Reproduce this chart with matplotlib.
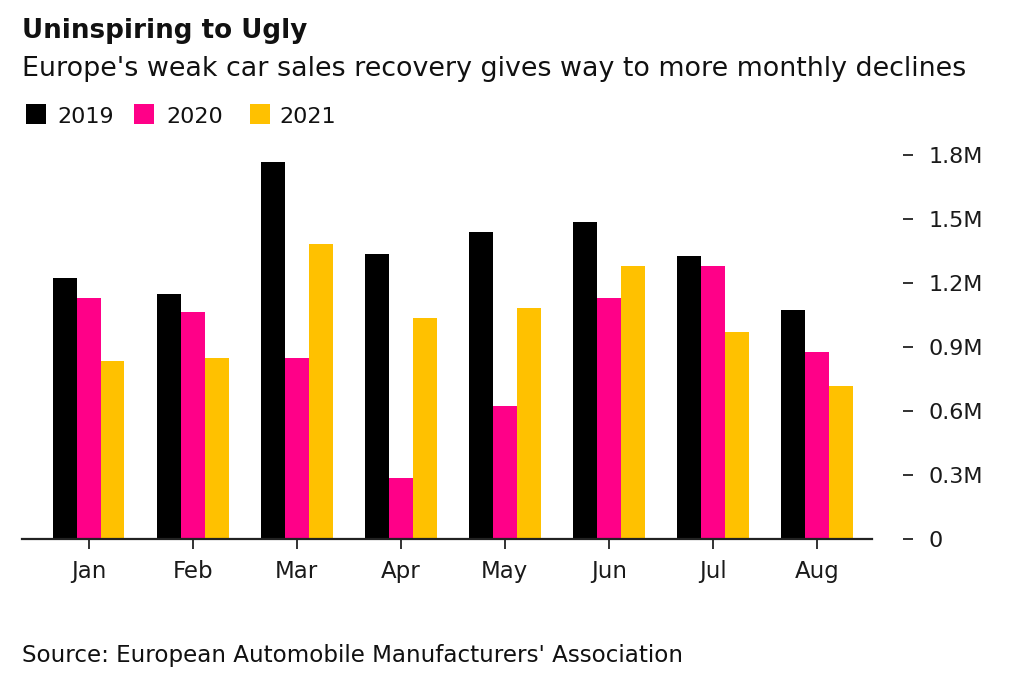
import matplotlib
matplotlib.use("Agg")
import matplotlib.pyplot as plt
import matplotlib.transforms as mtransforms
from matplotlib.patches import Rectangle
import numpy as np

plt.rcParams['font.family'] = ['DejaVu Sans']

months = ["Jan", "Feb", "Mar", "Apr", "May", "Jun", "Jul", "Aug"]
years = ["2019", "2020", "2021"]
sales_2019 = [1.224, 1.149, 1.767, 1.336, 1.439, 1.486, 1.327, 1.074]
sales_2020 = [1.130, 1.063, 0.847, 0.286, 0.624, 1.130, 1.279, 0.875]
sales_2021 = [0.836, 0.847, 1.382, 1.035, 1.082, 1.279, 0.969, 0.716]
yticks = [0, 0.3, 0.6, 0.9, 1.2, 1.5, 1.8]
ytick_labels = ["0", "0.3M", "0.6M", "0.9M", "1.2M", "1.5M", "1.8M"]

colors = ["#000000", "#ff0088", "#ffc100"]
series = [sales_2019, sales_2020, sales_2021]

W, H = 1012, 678
fig = plt.figure(figsize=(W / 100, H / 100), dpi=100)
fig.patch.set_facecolor("white")

def fx(px):
    return px / W

def fy(py):
    return 1 - py / H

ax = fig.add_axes([fx(22), fy(539), fx(872) - fx(22), fy(155) - fy(539)])
x = np.arange(len(months))
bw = 0.23
for i, (vals, c) in enumerate(zip(series, colors)):
    ax.bar(x + (i - 1) * bw, vals, width=bw, color=c, linewidth=0, zorder=2)

ax.set_xlim(-0.64, 7.53)
ax.set_ylim(0, 1.8)
for s in ["top", "right", "left"]:
    ax.spines[s].set_visible(False)
ax.spines["bottom"].set_color("#222222")
ax.spines["bottom"].set_linewidth(1.6)
ax.spines["bottom"].set_zorder(3)

ax.set_xticks(x)
ax.set_xticklabels(months, fontsize=16.5, color="#1a1a1a")
ax.tick_params(axis="x", length=7, width=1.3, color="#222222", pad=8)

ax.yaxis.tick_right()
ax.set_yticks(yticks)
ax.set_yticklabels(ytick_labels, fontsize=16, color="#1a1a1a")
ax.tick_params(axis="y", length=0, pad=41)
trans = mtransforms.blended_transform_factory(ax.transAxes, ax.transData)
for v in yticks:
    ax.plot([1.036, 1.048], [v, v], transform=trans, color="#222222",
            linewidth=1.3, clip_on=False, solid_capstyle="butt")

fig.text(fx(22), fy(38), "Uninspiring to Ugly", fontsize=18.8, fontweight="bold",
         color="#111111", ha="left", va="baseline")
fig.text(fx(22), fy(76), "Europe's weak car sales recovery gives way to more monthly declines",
         fontsize=19.4, color="#111111", ha="left", va="baseline")

leg_sq_x = [26, 134, 250]
leg_txt_x = [57, 166, 279]
for sx, tx, c, yr in zip(leg_sq_x, leg_txt_x, colors, years):
    fig.patches.append(Rectangle((fx(sx), fy(124)), fx(20), fy(104) - fy(124),
                                 transform=fig.transFigure, facecolor=c,
                                 edgecolor="none", figure=fig))
    fig.text(fx(tx), fy(123), yr, fontsize=16, color="#111111",
             ha="left", va="baseline")

fig.text(fx(22), fy(662), "Source: European Automobile Manufacturers' Association",
         fontsize=16.6, color="#111111", ha="left", va="baseline")

fig.savefig("out.png", dpi=100, facecolor="white")
